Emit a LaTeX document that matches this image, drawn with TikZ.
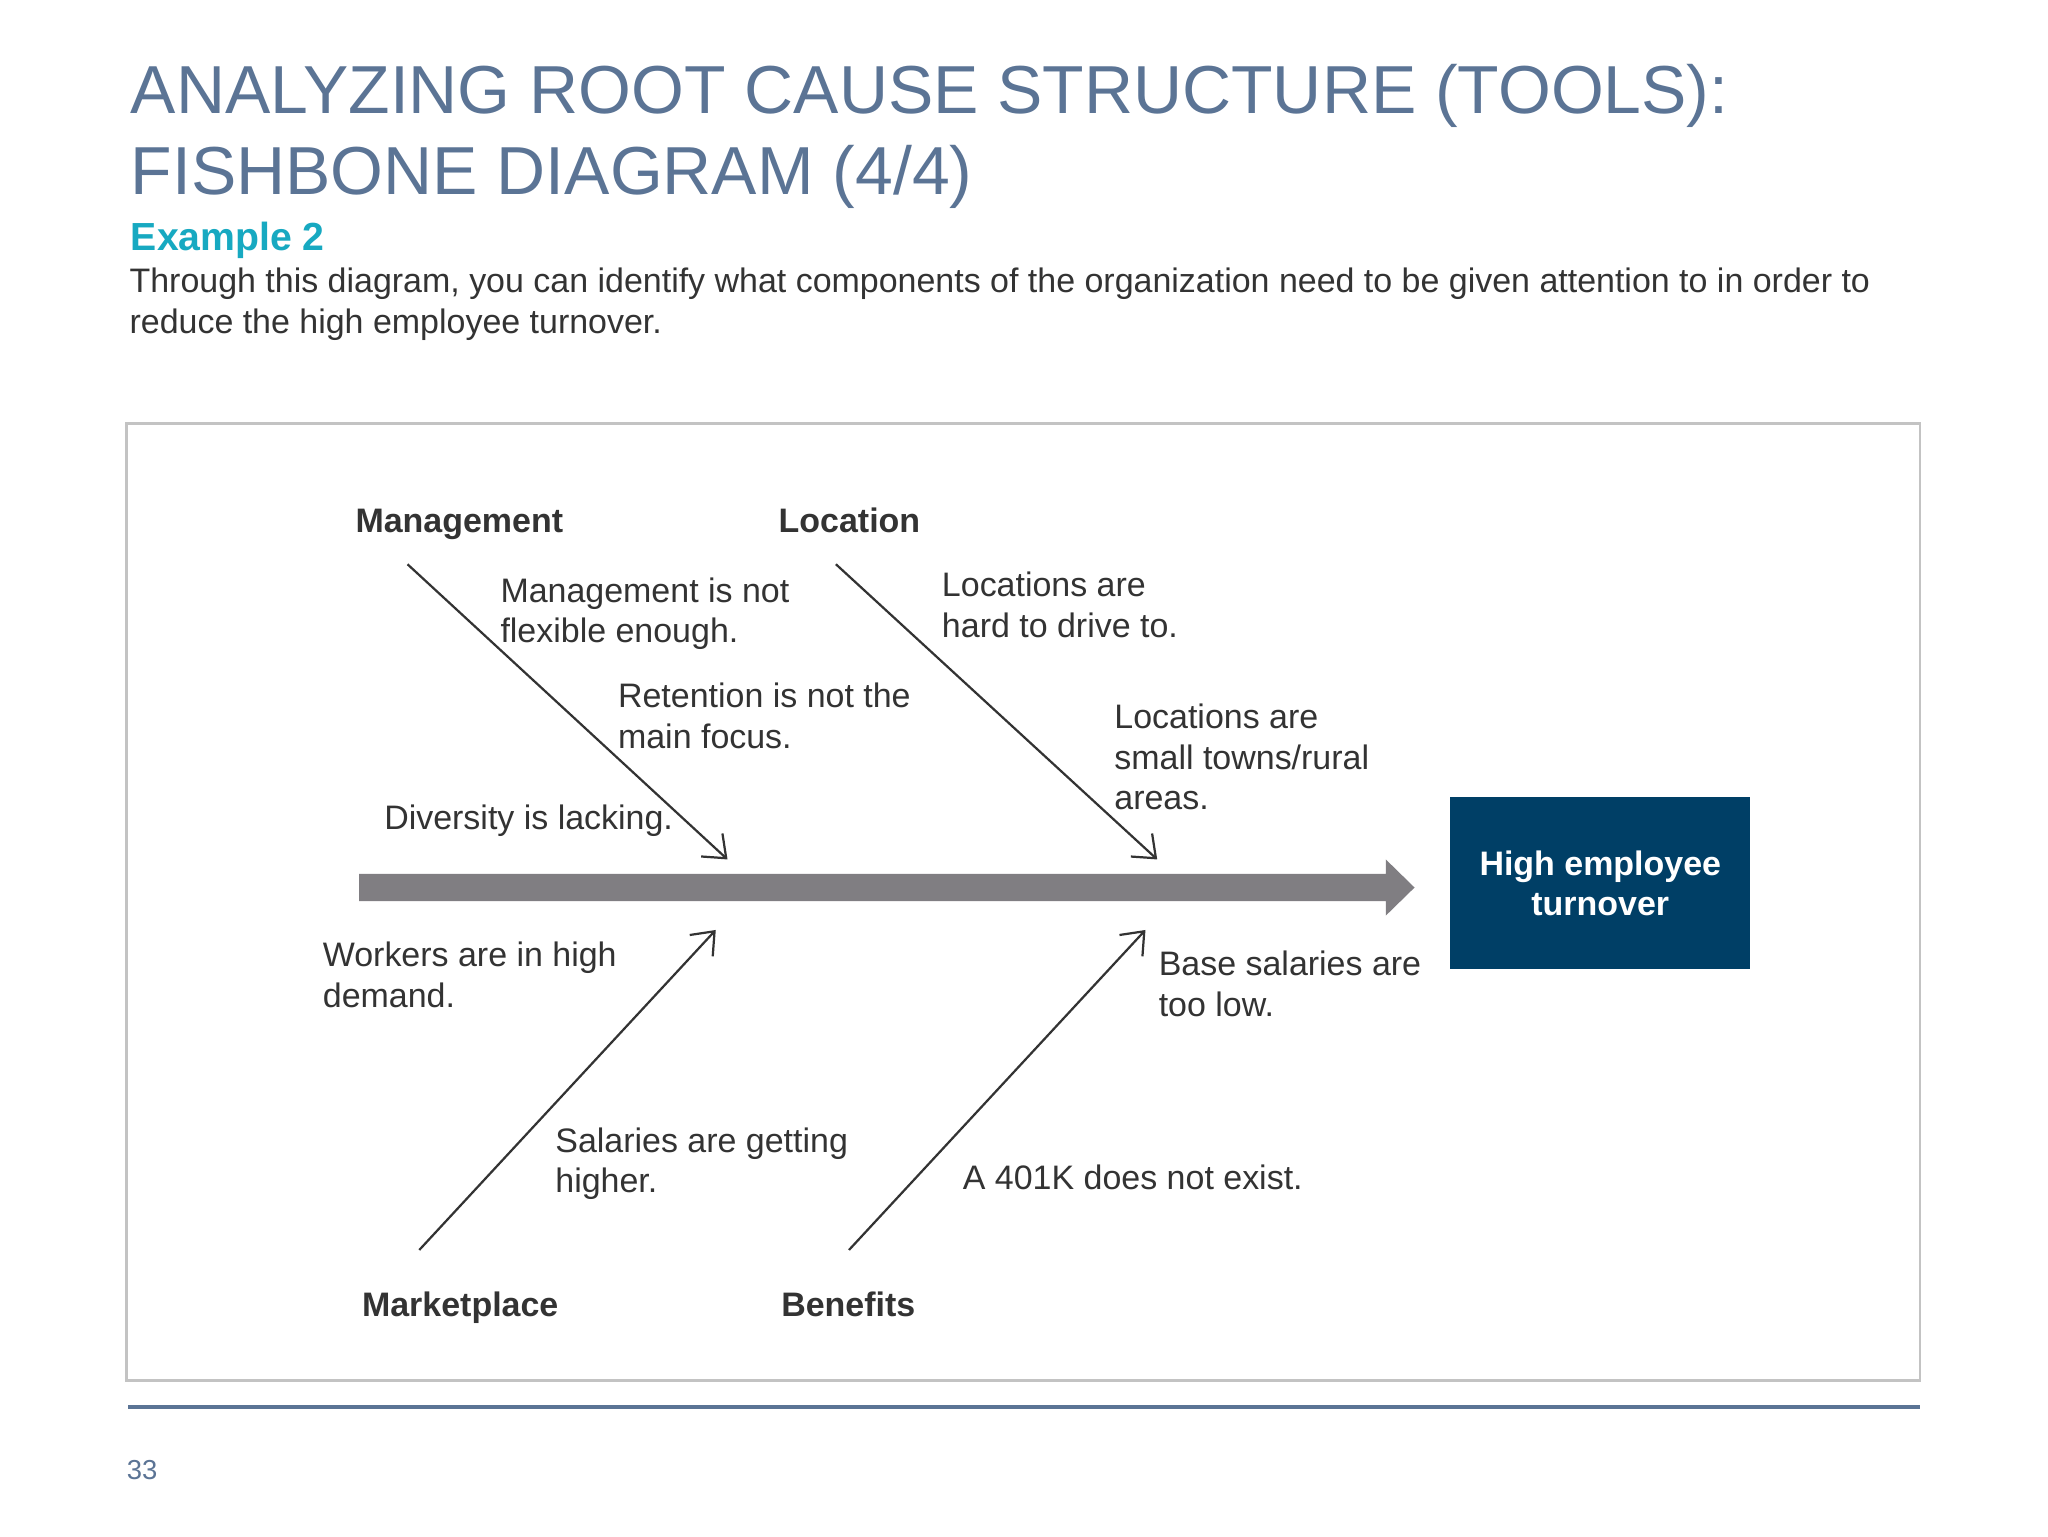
\documentclass[tikz,border=0pt]{standalone}
\usepackage{fontspec}
\setmainfont{Liberation Sans}
\usetikzlibrary{arrows.meta}
\definecolor{titleblue}{HTML}{5B7495}
\definecolor{teal}{HTML}{17A9C1}
\definecolor{bodytext}{HTML}{333333}
\definecolor{spinegray}{HTML}{807E82}
\definecolor{navy}{HTML}{003F66}
\definecolor{frame}{HTML}{C3C3C3}
\tikzset{
  txt/.style={anchor=base west, inner sep=0pt, align=left, text=bodytext, font=\fontsize{26}{31}\selectfont},
  cat/.style={anchor=base west, inner sep=0pt, text=bodytext, font=\fontsize{26}{31}\selectfont\bfseries},
  bone/.style={draw=bodytext, line width=1.7pt, -{Straight Barb[length=15pt,width=24pt,line width=1.7pt]}},
}
\begin{document}
\begin{tikzpicture}[x=1pt,y=-1pt]
\useasboundingbox[fill=white] (0,0) rectangle (1568,1176);
% header (base anchor of a multi-line node = baseline of its last line)
\node[anchor=base west, inner sep=0pt, align=left, text=titleblue, font=\fontsize{52}{62}\selectfont] (title) at (100,149) {ANALYZING ROOT CAUSE STRUCTURE (TOOLS):\\FISHBONE DIAGRAM (4/4)};
\node[anchor=base west, inner sep=0pt, text=teal, font=\fontsize{30}{36}\selectfont\bfseries] (example) at (100,192) {Example 2};
\node[anchor=base west, inner sep=0pt, align=left, text=bodytext, font=\fontsize{26}{31}\selectfont] (intro) at (99,255) {Through this diagram, you can identify what components of the organization need to be given attention to in order to\\reduce the high employee turnover.};
% frame
\draw[frame, line width=2pt, fill=white!98!black!1] (97,324) rectangle (1470,1057);
% spine
\fill[spinegray] (275,669) -- (1061,669) -- (1061,658) -- (1083,679.5) -- (1061,701) -- (1061,690) -- (275,690) -- cycle;
\coordinate (spineend) at (1083,679.5);
% effect
\node[fill=navy, minimum width=230pt, minimum height=132pt, inner sep=0pt, anchor=north west, text=white, align=center, font=\fontsize{26}{31}\selectfont\bfseries] (effect) at (1110,610) {High employee\\turnover};
% categories
\node[cat] (mgmt) at (272,408) {Management};
\node[cat] (loc) at (596,408) {Location};
\node[cat] (mkt) at (277,1008) {Marketplace};
\node[cat] (ben) at (598,1008) {Benefits};
% bones
\coordinate (m1) at (312,432); \coordinate (m2) at (557,658);
\coordinate (l1) at (640,432); \coordinate (l2) at (886,658);
\coordinate (k1) at (321,957); \coordinate (k2) at (548,712);
\coordinate (b1) at (650,957); \coordinate (b2) at (877,712);
\draw[bone] (m1) -- (m2);
\draw[bone] (l1) -- (l2);
\draw[bone] (k1) -- (k2);
\draw[bone] (b1) -- (b2);
% causes
\node[txt] (c1) at (383,492) {Management is not\\flexible enough.};
\node[txt] (c2) at (473,573) {Retention is not the\\main focus.};
\node[txt] (c3) at (294,635) {Diversity is lacking.};
\node[txt] (c4) at (721,488) {Locations are\\hard to drive to.};
\node[txt] (c5) at (853,620) {Locations are\\small towns/rural\\areas.};
\node[txt] (c6) at (247,771) {Workers are in high\\demand.};
\node[txt] (c7) at (425,913) {Salaries are getting\\higher.};
\node[txt] (c8) at (887,778) {Base salaries are\\too low.};
\node[txt] (c9) at (737,911) {A 401K does not exist.};
% footer
\draw[titleblue, line width=3pt] (98,1077) -- (1470,1077);
\node[anchor=base west, inner sep=0pt, text=titleblue, font=\fontsize{21}{24}\selectfont] (page) at (97,1133) {33};
\end{tikzpicture}
\end{document}
